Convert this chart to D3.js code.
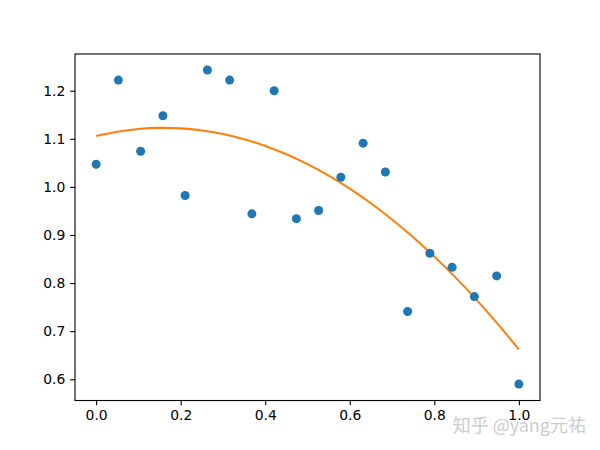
<!DOCTYPE html>
<html>
<head>
<meta charset="utf-8">
<script src="https://cdn.jsdelivr.net/npm/d3@7"></script>
<style>
  html, body { margin: 0; padding: 0; background: #fff; }
  svg { display: block; }
</style>
</head>
<body>
<svg id="chart" width="600" height="450"></svg>
<script>
// Scatter data (x evenly spaced 0..1, 20 points)
const pointX = [0, 0.0526, 0.1053, 0.1579, 0.2105, 0.2632, 0.3158, 0.3684, 0.4211, 0.4737,
                0.5263, 0.5789, 0.6316, 0.6842, 0.7368, 0.7895, 0.8421, 0.8947, 0.9474, 1.0];
const pointY = [1.047, 1.222, 1.074, 1.148, 0.982, 1.243, 1.222, 0.944, 1.200, 0.934,
                0.951, 1.020, 1.091, 1.031, 0.741, 0.862, 0.833, 0.772, 0.815, 0.590];
// Fitted curve samples
const curveX = [0, 0.05, 0.1, 0.15, 0.2, 0.25, 0.3, 0.35, 0.4, 0.45, 0.5,
                0.55, 0.6, 0.65, 0.7, 0.75, 0.8, 0.85, 0.9, 0.95, 1.0];
const curveY = [1.106, 1.1148, 1.1204, 1.1227, 1.1217, 1.1174, 1.1099, 1.0992, 1.0851, 1.0678, 1.0473,
                1.0234, 0.9964, 0.9660, 0.9323, 0.8954, 0.8553, 0.8119, 0.7652, 0.7152, 0.662];
const xTicks = [0.0, 0.2, 0.4, 0.6, 0.8, 1.0];
const yTicks = [0.6, 0.7, 0.8, 0.9, 1.0, 1.1, 1.2];

const svg = d3.select("#chart");
const L = 75, R = 540, T = 54, B = 400.5;
const x = d3.scaleLinear().domain([-0.05, 1.05]).range([L, R]);
const y = d3.scaleLinear().domain([0.5559, 1.2763]).range([B, T]);

const font = "'DejaVu Sans', sans-serif";

// Curve
const line = d3.line().x(d => x(d[0])).y(d => y(d[1])).curve(d3.curveCatmullRom);
svg.append("path")
  .datum(curveX.map((v, i) => [v, curveY[i]]))
  .attr("d", line)
  .attr("fill", "none")
  .attr("stroke", "#ff7f0e")
  .attr("stroke-width", 2.08);

// Points
svg.append("g").selectAll("circle")
  .data(pointX.map((v, i) => [v, pointY[i]]))
  .join("circle")
  .attr("cx", d => x(d[0]))
  .attr("cy", d => y(d[1]))
  .attr("r", 4.5)
  .attr("fill", "#1f77b4");

// Axes
const xAxis = d3.axisBottom(x).tickValues(xTicks).tickFormat(d3.format(".1f"))
  .tickSizeInner(4.86).tickSizeOuter(0).tickPadding(4.86);
const yAxis = d3.axisLeft(y).tickValues(yTicks).tickFormat(d3.format(".1f"))
  .tickSizeInner(4.86).tickSizeOuter(0).tickPadding(4.86);

const gx = svg.append("g").attr("transform", `translate(0,${B})`).call(xAxis);
const gy = svg.append("g").attr("transform", `translate(${L},0)`).call(yAxis);
[gx, gy].forEach(g => {
  g.select(".domain").remove();
  g.selectAll(".tick line").attr("stroke", "#000").attr("stroke-width", 1.1);
  g.selectAll(".tick text").attr("fill", "#000").style("font-family", font).style("font-size", "13.9px");
});

// Spines
svg.append("rect")
  .attr("x", L).attr("y", T).attr("width", R - L).attr("height", B - T)
  .attr("fill", "none").attr("stroke", "#000").attr("stroke-width", 1.1);

// Watermark (overlaps the 1.0 tick label, as in the reference)
svg.append("text")
  .attr("x", 586).attr("y", 432)
  .attr("text-anchor", "end")
  .style("font-family", "'Noto Sans CJK SC', sans-serif")
  .style("font-size", "18px")
  .attr("fill", "#c4c4c4")
  .attr("opacity", 0.85)
  .text("知乎 @yang元祐");
</script>
</body>
</html>
